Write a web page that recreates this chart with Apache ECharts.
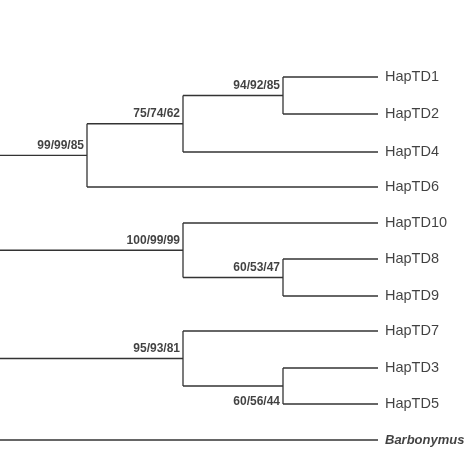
<!DOCTYPE html>
<html><head><meta charset="utf-8">
<script src="https://cdn.jsdelivr.net/npm/echarts@6/dist/echarts.min.js"></script>
<style>html,body{margin:0;padding:0;background:#fff}#c{width:474px;height:474px}</style>
</head><body><div id="c"></div>
<script>
const leafNames = ['HapTD1','HapTD2','HapTD4','HapTD6','HapTD10','HapTD8','HapTD9','HapTD7','HapTD3','HapTD5','Barbonymus'];
const leafRows  = [77,114,152,187,223,259,296,331,368,404,440];
const leafTipX  = 378;
const nodeIds      = ['n12','n124','n1246','n89','n1089','n35','n735'];
const nodeDepth    = [283,183,87,283,183,283,183];
const nodeChildren = [[0,1],['n12',2],['n124',3],[5,6],[4,'n89'],[8,9],[7,'n35']];
const nodeSupport  = ['94/92/85','75/74/62','99/99/85','60/53/47','100/99/99','60/56/44','95/93/81'];
const rootX = 0;
const rootChildren = ['n1246','n1089','n735',10];

const nodeY = {};
function yOf(c){ return typeof c==='number' ? leafRows[c] : nodeY[c]; }
function xOf(c){ return typeof c==='number' ? leafTipX : nodeDepth[nodeIds.indexOf(c)]; }
nodeIds.forEach((id,i)=>{ const ys=nodeChildren[i].map(yOf); nodeY[id]=(Math.min(...ys)+Math.max(...ys))/2; });
const segs=[];
nodeIds.forEach((id,i)=>{
  const ys=nodeChildren[i].map(yOf);
  segs.push([nodeDepth[i],Math.min(...ys),nodeDepth[i],Math.max(...ys)]);
  nodeChildren[i].forEach(c=>segs.push([nodeDepth[i],yOf(c),xOf(c),yOf(c)]));
});
rootChildren.forEach(c=>segs.push([rootX,yOf(c),xOf(c),yOf(c)]));

const leafData = leafNames.map((n,i)=>[leafTipX,leafRows[i],n]);
const supData = nodeIds.map((id,i)=>{
  const d={value:[nodeDepth[i],nodeY[id],nodeSupport[i]]};
  if(id==='n35') d.label={offset:[0,16]};
  return d;
});

const chart = echarts.init(document.getElementById('c'));
chart.setOption({
  animation:false,
  grid:{left:0,right:0,top:0,bottom:0},
  xAxis:{type:'value',min:0,max:474,show:false},
  yAxis:{type:'value',min:0,max:474,inverse:true,show:false},
  series:[
    {type:'custom',data:segs,renderItem:(p,api)=>{
      const a=api.coord([api.value(0),api.value(1)]), b=api.coord([api.value(2),api.value(3)]);
      return {type:'line',shape:{x1:a[0],y1:a[1],x2:b[0],y2:b[1]},style:{stroke:'#333',lineWidth:1.3}};
    }},
    {type:'scatter',data:leafData,symbolSize:0,
     label:{show:true,position:'right',distance:7,formatter:p=>p.data[2]==='Barbonymus'?'{b|Barbonymus}':p.data[2],
       fontFamily:'Liberation Sans',fontSize:14.5,color:'#111',
       rich:{b:{fontFamily:'Liberation Sans',fontSize:13,fontWeight:'bold',fontStyle:'italic',color:'#111'}}}},
    {type:'scatter',data:supData,symbolSize:0,
     label:{show:true,position:'left',distance:3,offset:[0,-10],formatter:p=>p.value[2],
       fontFamily:'Liberation Sans',fontSize:12,fontWeight:'bold',color:'#111'}}
  ]
});
</script></body></html>
